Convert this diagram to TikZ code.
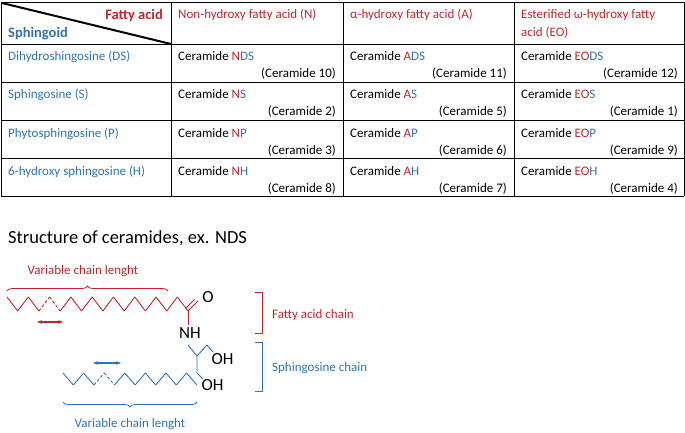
\documentclass[tikz,border=0pt]{standalone}
\usepackage{fontspec}
\setmainfont{Carlito}
\usetikzlibrary{arrows.meta,decorations.pathreplacing}
\definecolor{cred}{HTML}{C0272D}
\definecolor{cblue}{HTML}{2E75B6}
\tikzset{
  txt/.style={font=\fontsize{13}{14}\selectfont, inner sep=0pt, anchor=base west},
  rtxt/.style={font=\fontsize{13}{14}\selectfont, inner sep=0pt, anchor=base east},
  grid/.style={line width=0.8pt},
  bond/.style={line width=0.9pt},
  atom/.style={font=\fontsize{17}{19}\selectfont,inner sep=0.5pt},
}
\begin{document}
\begin{tikzpicture}[x=1pt,y=-1pt]
\useasboundingbox (0,0) rectangle (685,433);
% table grid
\foreach \y in {2,44,82,120,158,196} \draw[grid] (1,\y) -- (684,\y);
\foreach \x in {1,171,343,514,684} \draw[grid] (\x,2) -- (\x,196);
\draw[line width=2pt] (2,3) -- (171,44);
\node[rtxt,text=cred,font=\fontsize{14.5}{16}\selectfont\bfseries] (fa) at (163,20) {Fatty acid};
\node[txt,text=cblue,font=\fontsize{14.5}{16}\selectfont\bfseries] (sp) at (8,38) {Sphingoid};
\node[txt,text=cred] (h1) at (178,19) {Non-hydroxy fatty acid (N)};
\node[txt,text=cred] (h2) at (350,19) {α-hydroxy fatty acid (A)};
\node[txt,text=cred] (h3) at (521,19) {Esterified ω-hydroxy fatty};
\node[txt,text=cred] (h3b) at (521,37) {acid (EO)};
% rows
\foreach \i/\name/\code/\a/\b/\c in {0/Dihydroshingosine (DS)/DS/10/11/12,1/Sphingosine (S)/S/2/5/1,2/Phytosphingosine (P)/P/3/6/9,3/6-hydroxy sphingosine (H)/H/8/7/4}{
  \pgfmathsetmacro{\yy}{61+38*\i}
  \pgfmathsetmacro{\yb}{78+38*\i}
  \node[txt,text=cblue] (r\i) at (8,\yy) {\name};
  \node[txt] (n\i) at (178,\yy) {Ceramide \textcolor{cred}{N}\textcolor{cblue}{\code}};
  \node[rtxt] (nb\i) at (336,\yb) {(Ceramide \a)};
  \node[txt] (a\i) at (350,\yy) {Ceramide \textcolor{cred}{A}\textcolor{cblue}{\code}};
  \node[rtxt] (ab\i) at (507,\yb) {(Ceramide \b)};
  \node[txt] (e\i) at (521,\yy) {Ceramide \textcolor{cred}{EO}\textcolor{cblue}{\code}};
  \node[rtxt] (eb\i) at (678,\yb) {(Ceramide \c)};
}
\node[txt,font=\fontsize{18.5}{20}\selectfont] (title) at (8,243) {Structure of ceramides, ex. NDS};
% fatty acid chain
\foreach \i in {0,...,16}{
  \pgfmathsetmacro{\xa}{7+\i*10.65}
  \pgfmathsetmacro{\xb}{7+(\i+1)*10.65}
  \pgfmathsetmacro{\ya}{mod(\i,2)==0 ? 297 : 311}
  \pgfmathsetmacro{\yb}{mod(\i,2)==0 ? 311 : 297}
  \ifnum\i=3 \draw[bond,cred,densely dashed] (\xa,\ya) -- (\xb,\yb);
  \else\ifnum\i=4 \draw[bond,cred,densely dashed] (\xa,\ya) -- (\xb,\yb);
  \else \draw[bond,cred] (\xa,\ya) -- (\xb,\yb);\fi\fi
}
\coordinate (cc) at (188,311);
\node[atom] (O) at (208,297) {O};
\draw[bond,cred] (cc) -- ++(10,-10);
\draw[bond,cred] (cc)++(-2.5,-2.5) -- ++(9,-9);
\node[atom] (NH) at (190,333) {NH};
\draw[bond,cred] (cc) -- (188,325);
\draw[cred,{Stealth[length=5pt]}-{Stealth[length=5pt]},line width=1.2pt] (37,322) -- (63,322);
\draw[cred,decorate,decoration={brace,amplitude=5pt},line width=0.8pt] (7,291) -- (168,291);
\node[font=\fontsize{13}{14}\selectfont,text=cred] (vl1) at (83,271) {Variable chain lenght};
% sphingosine
\foreach \i in {0,...,12}{
  \pgfmathsetmacro{\xa}{63+\i*10.3}
  \pgfmathsetmacro{\xb}{63+(\i+1)*10.3}
  \pgfmathsetmacro{\ya}{mod(\i,2)==0 ? 373 : 385}
  \pgfmathsetmacro{\yb}{mod(\i,2)==0 ? 385 : 373}
  \ifnum\i=3 \draw[bond,cblue,densely dashed] (\xa,\ya) -- (\xb,\yb);
  \else\ifnum\i=4 \draw[bond,cblue,densely dashed] (\xa,\ya) -- (\xb,\yb);
  \else \draw[bond,cblue] (\xa,\ya) -- (\xb,\yb);\fi\fi
}
\draw[bond,cblue] (197,373) -- (197,356) -- (188,345);
\draw[bond,cblue] (197,356) -- (207,345) -- (213,352);
\draw[bond,cblue] (197,373) -- (203,379);
\node[atom,anchor=west] (OH1) at (211,359) {OH};
\node[atom,anchor=west] (OH2) at (201,385) {OH};
\draw[cblue,{Stealth[length=5pt]}-{Stealth[length=5pt]},line width=1.2pt] (93,363) -- (121,363);
\draw[cblue,decorate,decoration={brace,amplitude=5pt,mirror},line width=0.8pt] (63,402) -- (197,402);
\node[font=\fontsize{13}{14}\selectfont,text=cblue] (vl2) at (130,424) {Variable chain lenght};
% brackets
\draw[cred,line width=0.8pt] (255,292) -- (262,292) -- (262,333) -- (255,333);
\node[txt,text=cred] (fac) at (272,318) {Fatty acid chain};
\draw[cblue,line width=0.8pt] (255,342) -- (262,342) -- (262,391) -- (255,391);
\node[txt,text=cblue] (sc) at (272,371) {Sphingosine chain};
\end{tikzpicture}
\end{document}
